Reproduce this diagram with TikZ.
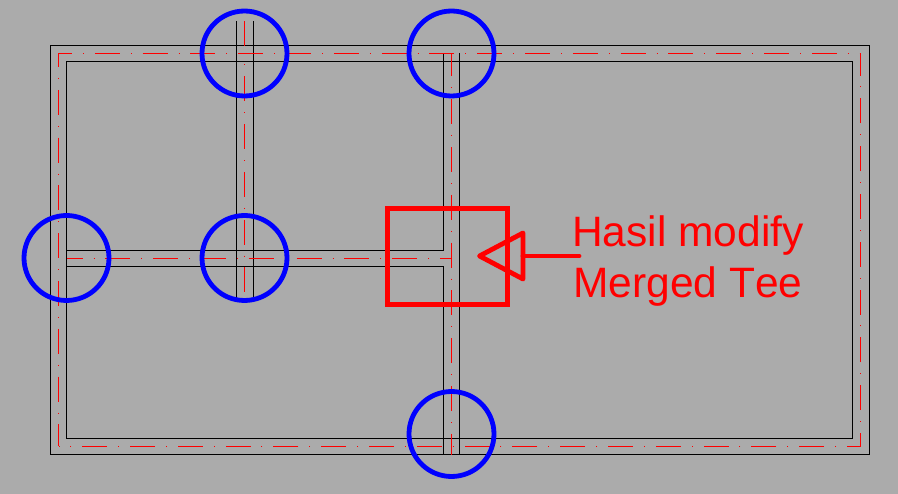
\documentclass[tikz,border=0pt]{standalone}
\usepackage{fontspec}
\setmainfont[Kerning=Off]{Liberation Sans}
\usepackage{tikz}
\usetikzlibrary{positioning}
\definecolor{plangray}{HTML}{ABABAB}
\tikzstyle{pipe} = [draw=black, line width=1.2pt]
\tikzstyle{centreline} = [color=red, line width=1.6pt, dash pattern=on 25pt off 11pt on 1pt off 10.8pt]
\tikzstyle{joint} = [draw=blue, circle, line width=4.8pt, minimum size=85pt, inner sep=0]
\tikzstyle{markbox} = [draw=red, rectangle, line width=4.8pt, minimum width=120pt, minimum height=96.5pt, inner sep=0]
\tikzstyle{marker} = [draw=red, line width=4.8pt, line join=round, line cap=round]
\tikzstyle{note} = [text=red, inner sep=0, anchor=base west, font=\fontsize{42.5}{50}\selectfont]

\begin{document}
\begin{tikzpicture}[x=1pt, y=-1pt]
	  \fill [plangray] (0,0) rectangle (898,494);
	  \useasboundingbox (0,0) rectangle (898,494);

	  \draw [pipe] (50.5,45.5) rectangle (869.5,454.5);
	  \draw [pipe] (66.5,61.5) rectangle (852.5,438.5);
	  \draw [pipe] (236.5,21) -- (236.5,298);
	  \draw [pipe] (253.5,21) -- (253.5,298);
	  \draw [pipe] (66.5,250.5) -| (443.5,53);
	  \draw [pipe] (66.5,266.5) -| (443.5,455);
	  \draw [pipe] (459.5,53) -- (459.5,455);

	  \draw [centreline, dash phase=11.5pt] (58.5,53.5) -- (860.5,53.5);
	  \draw [centreline, dash phase=11.5pt] (58.5,53.5) -- (58.5,446.5);
	  \draw [centreline, dash phase=11.5pt] (860.5,446.5) -- (58.5,446.5);
	  \draw [centreline, dash phase=11.5pt] (860.5,446.5) -- (860.5,53.5);
	  \draw [centreline, dash phase=9pt] (66.5,258.5) -- (451.5,258.5);
	  \draw [centreline, dash phase=2pt] (451.5,53.5) -- (451.5,455);
	  \draw [centreline, dash phase=0pt] (244.5,21) -- (244.5,53.5);
	  \draw [centreline, dash phase=25pt] (244.5,53.5) -- (244.5,298);

	  \node [joint] (topleft) at (244.5,53.5) {};
	  \node [joint] (topright) at (451.5,53.5) {};
	  \node [joint] (midleft) at (66.5,258) {};
	  \node [joint] (midcentre) at (244.5,258) {};
	  \node [joint] (bottom) at (451.5,434) {};

	  \node [markbox] (tee) at (447.5,256.4) {};
	  \coordinate (tip) at (479.5,256);
	  \coordinate (tail) at (579,256);
	  \coordinate (back) at (523,256);
	  \draw [marker] (tip) -- (523,233) -- (523,279) -- cycle;
	  \draw [marker] (back) -- (tail);

	  \node [note] (hasil) at (572,247) {Hasil modify};
	  \node [note] (merged) at (573,297.5) {Merged Tee};
\end{tikzpicture}
\end{document}
